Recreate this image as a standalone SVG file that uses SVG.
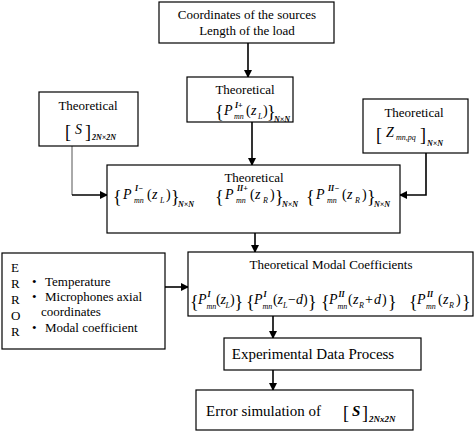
<svg xmlns="http://www.w3.org/2000/svg" width="474" height="433" viewBox="0 0 474 433" font-family="'Liberation Serif', 'DejaVu Serif', serif">
<style>
.box{fill:#fff;stroke:#000;stroke-width:1.2}
text, tspan{font-family:'Liberation Serif','DejaVu Serif',serif;fill:#000}
.t{font-size:13px}
.c{text-anchor:middle}
.m{font-size:14px;font-style:italic}
.r{font-size:14px}
.br{font-size:18px}
.s{font-size:8px;font-style:italic}
.sb{font-size:8px;font-style:italic;font-weight:bold}
.ln{fill:none;stroke:#000;stroke-width:1.6}
.thin{fill:none;stroke:#555;stroke-width:1}
</style>
<defs>
<marker id="ah" markerWidth="8" markerHeight="8" refX="7" refY="4" orient="auto" markerUnits="userSpaceOnUse">
<path d="M0,0 L8,4 L0,8 Z" fill="#000"/>
</marker>
</defs>

<g id="connectors">
<path class="ln" d="M248,43 V77" marker-end="url(#ah)"/>
<path class="ln" d="M252,122 V165" marker-end="url(#ah)"/>
<path class="thin" d="M72,146 V195"/>
<path class="ln" d="M72,195 H107" marker-end="url(#ah)"/>
<path class="ln" d="M426,153 V195 H400" marker-end="url(#ah)"/>
<path class="ln" d="M255,233 V252" marker-end="url(#ah)"/>
<path class="ln" d="M165,287 H188" marker-end="url(#ah)"/>
<path class="ln" d="M273,316 V338" marker-end="url(#ah)"/>
<path class="ln" d="M273,370 V390" marker-end="url(#ah)"/>
</g>

<g id="sources">
<rect class="box" x="159" y="2" width="175" height="41"/>
<text class="t c" x="247" y="19">Coordinates of the sources</text>
<text class="t c" x="247" y="35">Length of the load</text>
</g>

<g id="theoretical-p1plus">
<rect class="box" x="187" y="77" width="106" height="45"/>
<text class="t c" x="245" y="94">Theoretical</text>
<text><tspan class="br" x="215" y="118">{</tspan><tspan class="m" x="224" y="115">P</tspan><tspan class="sb" x="235" y="108">I+</tspan><tspan class="s" x="234" y="119">mn</tspan><tspan class="r" x="246" y="115">(</tspan><tspan class="m" x="251" y="115">z</tspan><tspan class="s" x="258" y="119">L</tspan><tspan class="r" x="263" y="115">)</tspan><tspan class="br" x="267" y="118">}</tspan><tspan class="sb" x="274" y="122">N×N</tspan></text>
</g>

<g id="theoretical-s">
<rect class="box" x="39" y="92" width="99" height="54"/>
<text class="t c" x="88" y="110">Theoretical</text>
<text><tspan class="br" x="65" y="138">[</tspan><tspan class="m" x="75" y="134">S</tspan><tspan class="br" x="85" y="138">]</tspan><tspan class="sb" x="92" y="140">2N×2N</tspan></text>
</g>

<g id="theoretical-z">
<rect class="box" x="363" y="99" width="105" height="54"/>
<text class="t c" x="414" y="117">Theoretical</text>
<text><tspan class="br" x="376" y="141">[</tspan><tspan class="m" x="386" y="137">Z</tspan><tspan class="s" x="396" y="140">mn,pq</tspan><tspan class="br" x="420" y="141">]</tspan><tspan class="sb" x="427" y="146">N×N</tspan></text>
</g>

<g id="theoretical-main">
<rect class="box" x="107" y="165" width="293" height="68"/>
<text class="t c" x="254" y="182">Theoretical</text>
<text><tspan class="br" x="113" y="203">{</tspan><tspan class="m" x="123" y="199">P</tspan><tspan class="sb" x="135" y="191">I−</tspan><tspan class="s" x="134" y="203">mn</tspan><tspan class="r" x="147" y="199">(</tspan><tspan class="m" x="152" y="199">z</tspan><tspan class="s" x="160" y="203">L</tspan><tspan class="r" x="166" y="199">)</tspan><tspan class="br" x="171" y="203">}</tspan><tspan class="sb" x="178" y="207">N×N</tspan></text>
<text><tspan class="br" x="215" y="203">{</tspan><tspan class="m" x="225" y="199">P</tspan><tspan class="sb" x="237" y="191">II+</tspan><tspan class="s" x="236" y="203">mn</tspan><tspan class="r" x="250" y="199">(</tspan><tspan class="m" x="255" y="199">z</tspan><tspan class="s" x="263" y="203">R</tspan><tspan class="r" x="270" y="199">)</tspan><tspan class="br" x="275" y="203">}</tspan><tspan class="sb" x="282" y="207">N×N</tspan></text>
<text><tspan class="br" x="306" y="203">{</tspan><tspan class="m" x="316" y="199">P</tspan><tspan class="sb" x="328" y="191">II−</tspan><tspan class="s" x="327" y="203">mn</tspan><tspan class="r" x="342" y="199">(</tspan><tspan class="m" x="347" y="199">z</tspan><tspan class="s" x="355" y="203">R</tspan><tspan class="r" x="362" y="199">)</tspan><tspan class="br" x="367" y="203">}</tspan><tspan class="sb" x="374" y="207">N×N</tspan></text>
</g>

<g id="error">
<rect class="box" x="2" y="253" width="163" height="96"/>
<text class="t" x="11" y="272">E</text>
<text class="t" x="11" y="288">R</text>
<text class="t" x="11" y="304">R</text>
<text class="t" x="11" y="320">O</text>
<text class="t" x="11" y="336">R</text>
<text class="t" x="32" y="286">•</text>
<text class="t" x="45" y="286">Temperature</text>
<text class="t" x="32" y="301">•</text>
<text class="t" x="45" y="301">Microphones axial</text>
<text class="t" x="41" y="316">coordinates</text>
<text class="t" x="32" y="332">•</text>
<text class="t" x="45" y="332">Modal coefficient</text>
</g>

<g id="modal-coefficients">
<rect class="box" x="188" y="252" width="285" height="64"/>
<text class="t c" x="331" y="269">Theoretical  Modal Coefficients</text>
<text><tspan class="br" x="190" y="308">{</tspan><tspan class="m" x="198" y="304">P</tspan><tspan class="sb" x="207.5" y="297">I</tspan><tspan class="s" x="206.5" y="309">mn</tspan><tspan class="r" x="216" y="304">(</tspan><tspan class="m" x="220.5" y="304">z</tspan><tspan class="s" x="225.5" y="308">L</tspan><tspan class="r" x="230" y="304">)</tspan><tspan class="br" x="234.5" y="308">}</tspan></text>
<text><tspan class="br" x="246" y="308">{</tspan><tspan class="m" x="254" y="304">P</tspan><tspan class="sb" x="263.5" y="297">I</tspan><tspan class="s" x="262.5" y="309">mn</tspan><tspan class="r" x="273" y="304">(</tspan><tspan class="m" x="277.5" y="304">z</tspan><tspan class="s" x="283" y="308">L</tspan><tspan class="r" x="288" y="304">−</tspan><tspan class="m" x="296" y="304">d</tspan><tspan class="r" x="303" y="304">)</tspan><tspan class="br" x="308" y="308">}</tspan></text>
<text><tspan class="br" x="321" y="308">{</tspan><tspan class="m" x="329" y="304">P</tspan><tspan class="sb" x="338.5" y="297">II</tspan><tspan class="s" x="337.5" y="309">mn</tspan><tspan class="r" x="348" y="304">(</tspan><tspan class="m" x="353" y="304">z</tspan><tspan class="s" x="359" y="308">R</tspan><tspan class="r" x="365" y="304">+</tspan><tspan class="m" x="374" y="304">d</tspan><tspan class="r" x="382" y="304">)</tspan><tspan class="br" x="388" y="308">}</tspan></text>
<text><tspan class="br" x="409" y="308">{</tspan><tspan class="m" x="417" y="304">P</tspan><tspan class="sb" x="427" y="297">II</tspan><tspan class="s" x="426" y="309">mn</tspan><tspan class="r" x="438" y="304">(</tspan><tspan class="m" x="443" y="304">z</tspan><tspan class="s" x="449" y="308">R</tspan><tspan class="r" x="456" y="304">)</tspan><tspan class="br" x="462" y="308">}</tspan></text>
</g>

<g id="experimental">
<rect class="box" x="224" y="338" width="197" height="32"/>
<text class="c" style="font-size:15px" x="313" y="359">Experimental Data Process</text>
</g>

<g id="error-simulation">
<rect class="box" x="196" y="390" width="217" height="40"/>
<text style="font-size:15px" x="206" y="416">Error simulation of</text>
<text><tspan class="br" x="343" y="419">[</tspan><tspan style="font-size:15px;font-style:italic;font-weight:bold" x="352" y="416">S</tspan><tspan class="br" x="362" y="419">]</tspan><tspan class="sb" style="font-size:9px" x="369" y="422">2Nx2N</tspan></text>
</g>
</svg>
